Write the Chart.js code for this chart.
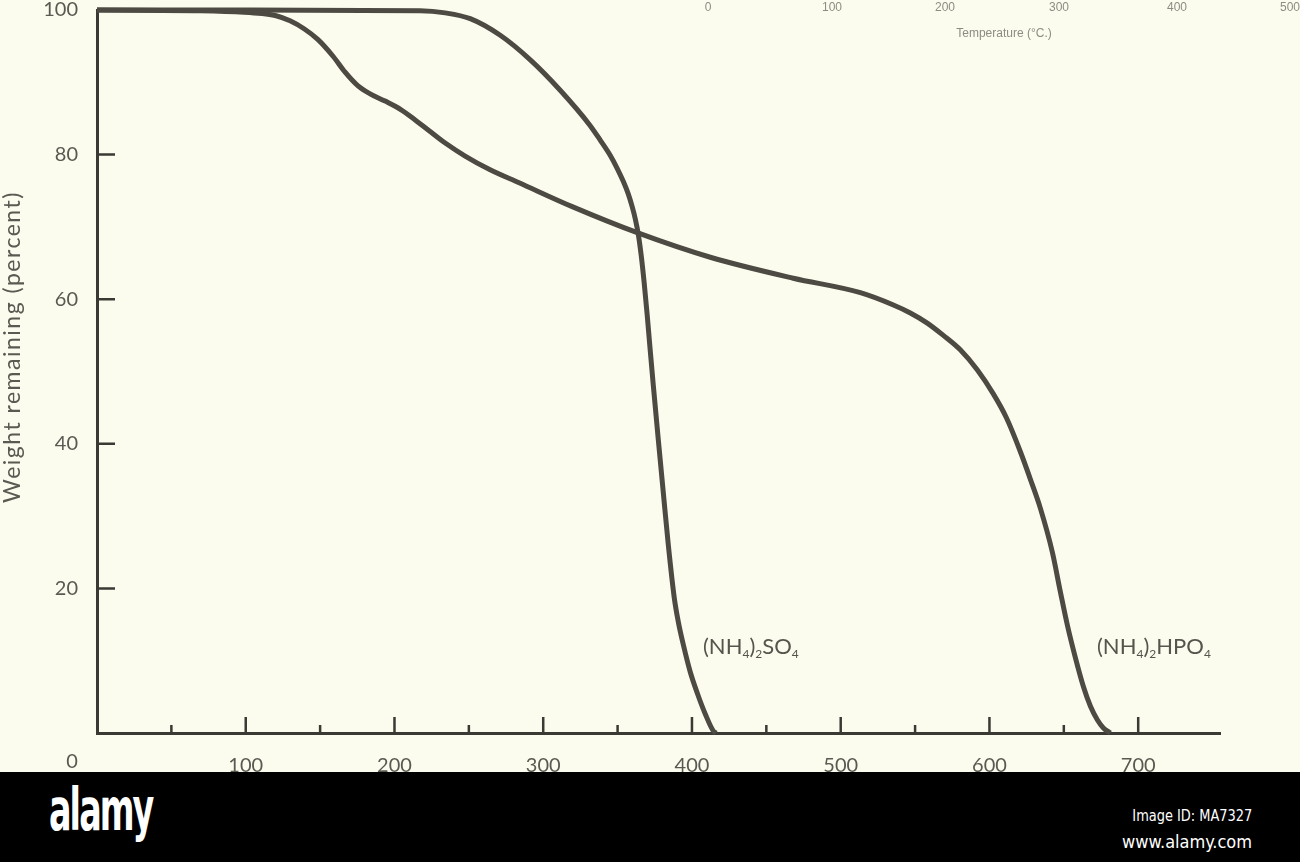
<!DOCTYPE html>
<html>
<head>
<meta charset="utf-8">
<script src="https://cdn.jsdelivr.net/npm/chart.js@4.4.1/dist/chart.umd.min.js"></script>
<style>
  html, body { margin: 0; padding: 0; background: #fcfcee; }
  #wrap { position: relative; width: 1300px; height: 862px; overflow: hidden; background: #fcfcee; }
  #chart { position: absolute; left: 0; top: 0; }
  .curve-label { position: absolute; font-family: Lato, "Noto Sans", sans-serif; font-size: 22px; color: #55554e; white-space: nowrap; }
  .curve-label sub { font-size: 12px; vertical-align: -4px; }
  .inset { position: absolute; font-family: "Liberation Sans", Arial, sans-serif; font-size: 12px; color: #8c8c84; white-space: nowrap; transform: translateX(-50%); }
  #band { position: absolute; left: 0; top: 772px; width: 1300px; height: 90px; background: #000; }
  #logo { position: absolute; left: 49px; top: 4px; color: #fff; font-family: "DejaVu Sans Condensed", "Liberation Sans Narrow", sans-serif; font-weight: bold; font-size: 58px; letter-spacing: -3px; transform: scaleX(0.64); transform-origin: left top; }
  .stock { position: absolute; right: 48px; color: #fff; font-family: "DejaVu Sans Condensed", "Liberation Sans Narrow", sans-serif; white-space: nowrap; transform-origin: right top; }
</style>
</head>
<body>
<div id="wrap">
  <canvas id="chart" width="1300" height="862"></canvas>
  <div class="curve-label" style="left:703px; top:632px;">(NH<sub>4</sub>)<sub>2</sub>SO<sub>4</sub></div>
  <div class="curve-label" style="left:1097px; top:632px;">(NH<sub>4</sub>)<sub>2</sub>HPO<sub>4</sub></div>
  <div id="inset"></div>
  <div id="band">
    <div id="logo">alamy</div>
    <div class="stock" style="top:34px; font-size:16px; transform: scaleX(0.9);">Image ID: MA7327</div>
    <div class="stock" style="top:59px; font-size:18px;">www.alamy.com</div>
  </div>
</div>
<script>
// temperature (°C) and weight remaining (%)
const so4Temp = [0, 102.9, 217.2, 234.1, 250.9, 271.1, 291.3, 311.4, 331.6, 338.3, 345.0, 349.7, 353.8, 357.1, 359.8, 361.9, 363.9, 365.9, 367.9, 369.9, 371.9, 374.0, 377.4, 380.8, 384.1, 388.1, 390.8, 394.2, 398.9, 403.6, 409.0, 414.3, 416.3];
const so4Weight = [100, 100, 99.9, 99.6, 98.8, 96.5, 93.1, 88.9, 84.0, 82.0, 79.9, 78.1, 76.3, 74.6, 72.8, 71.1, 69.0, 66.0, 62.2, 57.8, 53.0, 48.1, 40.5, 33.1, 26.0, 18.7, 15.4, 12.2, 8.4, 5.5, 2.6, 0.3, 0];

const hpo4Temp = [0, 69.3, 98.9, 111.0, 120.4, 129.8, 139.2, 148.6, 158.7, 166.8, 175.5, 183.6, 193.7, 204.5, 213.9, 223.3, 234.1, 247.5, 264.3, 283.8, 319.5, 363.2, 412.3, 468.1, 513.2, 535.4, 546.8, 558.2, 569.0, 580.4, 591.9, 602.6, 611.4, 620.8, 628.2, 634.2, 642.3, 647.7, 652.4, 657.8, 663.2, 667.9, 672.6, 676.6, 681.3];
const hpo4Weight = [100, 99.9, 99.7, 99.5, 99.2, 98.5, 97.4, 95.9, 93.6, 91.4, 89.5, 88.4, 87.4, 86.2, 84.8, 83.3, 81.6, 79.8, 77.9, 76.1, 72.8, 69.2, 65.8, 62.9, 60.9, 59.2, 58.1, 56.7, 55.0, 53.0, 50.2, 46.9, 43.6, 38.9, 34.7, 31.1, 25.0, 19.5, 14.9, 10.4, 6.4, 3.7, 1.8, 0.7, 0];

const xLabels = [100, 200, 300, 400, 500, 600, 700];
const xMinorTicks = [50, 150, 250, 350, 450, 550, 650];
const yLabels = [20, 40, 60, 80, 100];
const yInnerTicks = [20, 40, 60, 80];

// stray axis from the facing page, top right
const insetTicks = ['0', '100', '200', '300', '400', '500'];
const insetTitle = 'Temperature (°C.)';
const yTitle = 'Weight remaining (percent)';

const inkColor = '#4c4a42';
const axisColor = '#3a3934';
const textColor = '#5a5a53';
const tickFont = { family: 'Lato', size: 20 };

// inset labels
const insetX = [708, 832, 945, 1059, 1177, 1290];
const inset = document.getElementById('inset');
insetTicks.forEach((t, i) => {
  const d = document.createElement('div');
  d.className = 'inset';
  d.style.left = insetX[i] + 'px';
  d.style.top = '0px';
  d.textContent = t;
  inset.appendChild(d);
});
const it = document.createElement('div');
it.className = 'inset';
it.style.left = '1004px';
it.style.top = '26px';
it.textContent = insetTitle;
inset.appendChild(it);

// ticks pointing into the plot, plus the y title and the corner zero
const innerTicks = {
  id: 'innerTicks',
  afterDraw(chart) {
    const { ctx, chartArea, scales: { x, y } } = chart;
    ctx.save();
    ctx.strokeStyle = axisColor;
    ctx.lineWidth = 2.5;
    ctx.beginPath();
    xLabels.forEach(v => {
      const px = x.getPixelForValue(v);
      ctx.moveTo(px, chartArea.bottom);
      ctx.lineTo(px, chartArea.bottom - 16);
    });
    xMinorTicks.forEach(v => {
      const px = x.getPixelForValue(v);
      ctx.moveTo(px, chartArea.bottom);
      ctx.lineTo(px, chartArea.bottom - 8);
    });
    yInnerTicks.forEach(v => {
      const py = y.getPixelForValue(v);
      ctx.moveTo(chartArea.left, py);
      ctx.lineTo(chartArea.left + 18, py);
    });
    ctx.stroke();

    ctx.fillStyle = textColor;
    ctx.font = '20px Lato';
    ctx.textAlign = 'center';
    ctx.textBaseline = 'middle';
    ctx.fillText('0', 72, 762);

    ctx.translate(13, 347);
    ctx.rotate(-Math.PI / 2);
    ctx.font = '23px Lato';
    ctx.letterSpacing = '1.5px';
    ctx.fillText(yTitle, 0, 0);
    ctx.restore();
  }
};

new Chart(document.getElementById('chart'), {
  type: 'line',
  data: {
    datasets: [
      {
        label: '(NH4)2SO4',
        data: so4Temp.map((t, i) => ({ x: t, y: so4Weight[i] })),
        borderColor: inkColor,
        borderWidth: 5,
        pointRadius: 0,
        cubicInterpolationMode: 'monotone',
        clip: false
      },
      {
        label: '(NH4)2HPO4',
        data: hpo4Temp.map((t, i) => ({ x: t, y: hpo4Weight[i] })),
        borderColor: inkColor,
        borderWidth: 5,
        pointRadius: 0,
        cubicInterpolationMode: 'monotone',
        clip: false
      }
    ]
  },
  options: {
    responsive: false,
    animation: false,
    layout: { padding: { top: 10, right: 80, left: 0, bottom: 0 } },
    plugins: {
      legend: { display: false },
      tooltip: { enabled: false }
    },
    scales: {
      x: {
        type: 'linear',
        min: 0,
        max: 755,
        grid: { display: false },
        border: { display: true, width: 3, color: axisColor },
        afterBuildTicks: s => { s.ticks = xLabels.map(v => ({ value: v })); },
        afterFit: s => { s.height = 129; s.paddingLeft = 0; s.paddingRight = 0; },
        ticks: { font: tickFont, color: textColor, padding: 13, maxRotation: 0, autoSkip: false }
      },
      y: {
        type: 'linear',
        min: 0,
        max: 100,
        grid: { display: false },
        border: { display: true, width: 3, color: axisColor },
        afterBuildTicks: s => { s.ticks = yLabels.map(v => ({ value: v })); },
        afterFit: s => { s.width = 97; s.paddingTop = 0; s.paddingBottom = 0; },
        ticks: { font: tickFont, color: textColor, padding: 11 }
      }
    }
  },
  plugins: [innerTicks]
});
</script>
</body>
</html>
